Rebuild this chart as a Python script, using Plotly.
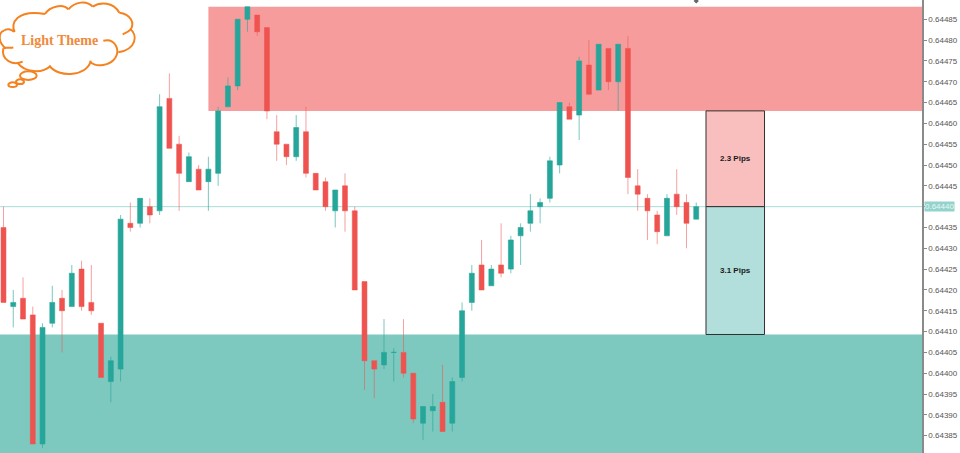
import plotly.graph_objects as go

# prices in units of 0.00001
opens = [64435,64416,64418,64414,64383,64412,64418,64416,64425,64417,64412,64398,64401,64436,64436,64440,64439,64466,64455,64446,64449,64446,64448,64464,64469,64485,64486,64483,64458,64455,64452,64458,64448,64446,64439,64445,64439,64422,64403,64402,64405,64405,64400,64388,64391,64393,64388,64399,64417,64426,64421,64426,64425,64433,64436,64440,64442,64450,64464,64462,64474,64468,64478,64470,64478,64445,64442,64438,64433,64443,64441,64437]
highs = [64440,64420,64423,64416,64412,64421,64420,64426,64427,64426,64412,64404,64438,64441,64442,64442,64467,64472,64457,64453,64450,64452,64464,64471,64485,64488,64486,64483,64462,64455,64462,64464,64448,64447,64444,64448,64440,64422,64403,64413,64406,64413,64400,64392,64395,64402,64399,64417,64426,64432,64426,64436,64433,64436,64443,64442,64452,64465,64465,64476,64480,64479,64478,64479,64481,64449,64443,64439,64443,64449,64443,64441]
lows = [64417,64411,64413,64383,64382,64411,64405,64416,64415,64414,64399,64393,64398,64434,64435,64436,64438,64454,64439,64446,64444,64439,64445,64464,64468,64482,64481,64461,64451,64450,64451,64447,64444,64439,64435,64434,64420,64396,64394,64401,64398,64399,64388,64384,64386,64386,64386,64398,64415,64420,64421,64423,64424,64426,64434,64436,64441,64448,64461,64456,64467,64468,64468,64463,64443,64439,64432,64431,64433,64438,64430,64437]
closes = [64417,64417,64413,64383,64411,64417,64415,64424,64416,64415,64399,64403,64437,64435,64442,64438,64464,64454,64448,64452,64444,64449,64463,64469,64485,64488,64482,64463,64455,64452,64459,64448,64444,64440,64444,64439,64420,64403,64401,64405,64405,64400,64389,64392,64392,64386,64398,64415,64424,64420,64425,64424,64432,64435,64439,64441,64451,64465,64461,64475,64467,64479,64470,64479,64447,64443,64439,64434,64442,64440,64436,64440]
bars = list(range(len(opens)))

current_price = 64440
tick_points = [64385,64390,64395,64400,64405,64410,64415,64420,64425,64430,64435,64440,64445,64450,64455,64460,64465,64470,64475,64480,64485]
tick_labels = ["" if p == current_price else "0.%d" % p for p in tick_points]
sell_zone = (21, 64488, 64463)
buy_zone_top = 64409.3
box_bars = (72, 78)
top_label = "2.3 Pips"
bottom_label = "3.1 Pips"
theme_label = "Light Theme"

SCALE = 1e5
P = lambda v: v / SCALE
GREEN, RED = "#26A69A", "#EF5350"

fig = go.Figure()
fig.add_trace(go.Candlestick(
    x=bars, open=[P(v) for v in opens], high=[P(v) for v in highs],
    low=[P(v) for v in lows], close=[P(v) for v in closes], whiskerwidth=0,
    increasing=dict(line=dict(color="rgba(38,166,154,0.62)", width=1), fillcolor=GREEN),
    decreasing=dict(line=dict(color="rgba(239,83,80,0.55)", width=1), fillcolor=RED),
    showlegend=False))
fig.add_trace(go.Scatter(x=[71], y=[P(64489.4)], mode="markers", showlegend=False,
                         marker=dict(symbol="diamond", size=4, color="#666666")))

shapes = [
    dict(type="rect", xref="x", yref="y", x0=sell_zone[0], x1=95, y0=P(sell_zone[1]), y1=P(sell_zone[2]),
         fillcolor="#F79C9C", line_width=0, layer="below"),
    dict(type="rect", xref="x", yref="y", x0=-1, x1=95, y0=P(64370), y1=P(buy_zone_top),
         fillcolor="#7DC9BF", line_width=0, layer="below"),
    dict(type="line", xref="paper", yref="y", x0=0, x1=1, y0=P(current_price), y1=P(current_price),
         line=dict(color="#A9DDD8", width=1), layer="below"),
    dict(type="rect", xref="x", yref="y", x0=box_bars[0], x1=box_bars[1], y0=P(current_price), y1=P(sell_zone[2]),
         fillcolor="#F9BFBF", line=dict(color="#303030", width=1), layer="below"),
    dict(type="rect", xref="x", yref="y", x0=box_bars[0], x1=box_bars[1], y0=P(buy_zone_top), y1=P(current_price),
         fillcolor="#B2DFDB", line=dict(color="#303030", width=1), layer="below"),
]

# decorative thought bubble, outlined in page pixels (3x units of the crop)
W, H = 922.0, 453.0
def px(x, y):
    return "%.5f %.5f" % (x / 3 / W, 1 - y / 3 / H)

cloud = [
    [(44,96),(30,70),(50,28),(135,42)],
    [(135,42),(150,18),(190,10),(205,28)],
    [(205,28),(225,5),(260,0),(278,20)],
    [(278,20),(300,5),(340,5),(358,38)],
    [(358,38),(392,42),(405,70),(392,88)],
    [(392,88),(385,96),(378,98),(368,103)],
    [(390,86),(414,105),(410,148),(355,157)],
    [(310,122),(345,113),(362,150),(345,175)],
    [(345,175),(330,195),(290,205),(270,185)],
    [(272,182),(265,228),(175,236),(148,197)],
    [(152,198),(125,222),(75,218),(52,188)],
    [(68,185),(40,197),(2,182),(10,145)],
    [(10,145),(14,140),(30,146),(40,142)],
    [(18,145),(-6,130),(-6,98),(12,92)],
    [(12,92),(20,84),(34,88),(42,95)],
]
for seg in cloud:
    a, b, c, d = seg
    shapes.append(dict(type="path", xref="paper", yref="paper",
                       path="M %s C %s %s %s" % (px(*a), px(*b), px(*c), px(*d)),
                       line=dict(color="#F58220", width=2)))
for cx, cy, rx, ry in [(85,227,25,13),(60,245,12,7),(38,254,13,7)]:
    shapes.append(dict(type="circle", xref="paper", yref="paper",
                       x0=(cx-rx)/3/W, x1=(cx+rx)/3/W, y0=1-(cy+ry)/3/H, y1=1-(cy-ry)/3/H,
                       line=dict(color="#F58220", width=2)))

annotations = [
    dict(x=sum(box_bars)/2, y=P((current_price+sell_zone[2])/2), xref="x", yref="y", text="<b>%s</b>" % top_label,
         showarrow=False, font=dict(family="Liberation Sans", size=8, color="#1a1a1a")),
    dict(x=sum(box_bars)/2, y=P((current_price+buy_zone_top)/2), xref="x", yref="y", text="<b>%s</b>" % bottom_label,
         showarrow=False, font=dict(family="Liberation Sans", size=8, color="#1a1a1a")),
    dict(x=60/W, y=1-40/H, xref="paper", yref="paper", xanchor="center", yanchor="middle",
         text="<b>%s</b>" % theme_label, showarrow=False,
         font=dict(family="Liberation Serif", size=14, color="#F08A3C")),
    dict(x=924/W, y=P(current_price), xref="paper", yref="y", xanchor="left", yanchor="middle",
         text="0.%d" % current_price, showarrow=False, bgcolor="#93D3CC", borderpad=0,
         font=dict(family="Liberation Sans", size=8, color="#E8F7F5")),
]

fig.update_layout(
    width=960, height=453, margin=dict(l=0, r=38, t=0, b=0, pad=0), autosize=False,
    paper_bgcolor="white", plot_bgcolor="white", shapes=shapes, annotations=annotations,
    boxmode="overlay", boxgap=0.28,
    xaxis=dict(range=[-0.359, 94.14], visible=False, rangeslider=dict(visible=False), fixedrange=True),
    yaxis=dict(range=[P(64380.84), P(64489.63)], side="right", tickvals=[P(v) for v in tick_points],
               ticktext=tick_labels, ticks="outside", ticklen=3, tickcolor="#888888", showgrid=False,
               zeroline=False, showline=True, linecolor="#8A8A8A", linewidth=1.5, mirror=False,
               tickfont=dict(family="Liberation Sans", size=8, color="#555555")),
)
fig.write_html("out.html", config=dict(displayModeBar=False),
               post_script="document.body.style.margin='0';document.body.style.overflow='hidden';")
